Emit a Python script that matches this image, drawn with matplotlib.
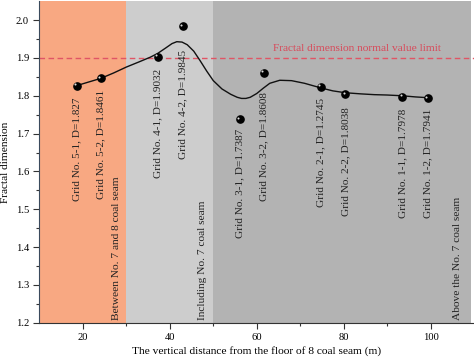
import matplotlib
matplotlib.use("Agg")
import matplotlib.pyplot as plt
import matplotlib.transforms as mtransforms
import numpy as np

plt.rcParams['font.family'] = ['Liberation Serif', 'DejaVu Serif']

# measured points
dist = [18.6, 24.1, 37.2, 43.0, 56.1, 61.6, 74.7, 80.4, 93.5, 99.3]
frac = [1.827, 1.8461, 1.9032, 1.9845, 1.7387, 1.8608, 1.8245, 1.8038, 1.7978, 1.7941]
labels = ['Grid No. 5-1, D=1.827', 'Grid No. 5-2, D=1.8461',
          'Grid No. 4-1, D=1.9032', 'Grid No. 4-2, D=1.9845',
          'Grid No. 3-1, D=1.7387', 'Grid No. 3-2, D=1.8608',
          'Grid No. 2-1, D=1.2745', 'Grid No. 2-2, D=1.8038',
          'Grid No. 1-1, D=1.7978', 'Grid No. 1-2, D=1.7941']
# gap between point and its label (points)
gaps = [8.5, 8.5, 8.5, 17, 7, 14, 8.5, 9, 8.5, 8]

# fitted curve
curve_x = [18.6, 24.1, 27, 30, 33, 35.5, 37.2, 39, 40.5, 41.6, 42.8, 44, 45.5,
           46.9, 48.5, 50, 52, 54, 55.5, 56.5, 57.5, 58.5, 60, 61.5, 63, 65.3,
           68, 71, 74.7, 77.5, 80.4, 84, 87, 90, 93.5, 96.5, 99.3]
curve_y = [1.827, 1.846, 1.860, 1.876, 1.890, 1.902, 1.912, 1.926, 1.938, 1.943,
           1.942, 1.935, 1.918, 1.894, 1.865, 1.840, 1.818, 1.804, 1.796, 1.793,
           1.793, 1.796, 1.806, 1.820, 1.833, 1.841, 1.840, 1.833, 1.821, 1.813,
           1.808, 1.805, 1.803, 1.802, 1.800, 1.797, 1.795]

zones = [(10, 30, '#f8a882', 'Between No. 7 and 8 coal seam', 27.8),
         (30, 50, '#cdcdcd', 'Including No. 7 coal seam', 47.6),
         (50, 109.3, '#b3b3b3', 'Above the No. 7 coal seam', 106.1)]

limit = 1.9

fig = plt.figure(figsize=(4.74, 3.62), dpi=100)
ax = fig.add_axes([0.0833, 0.1086, 0.9167, 0.888])

for x0, x1, c, txt, tx in zones:
    ax.axvspan(x0, x1, color=c, lw=0, zorder=0)
    ax.text(tx, 1.207, txt, rotation=90, ha='center', va='bottom', fontsize=8.2, color='#222222')

ax.axhline(limit, color='#e05565', lw=1, dashes=(4, 2.5), zorder=1)
ax.text(83, 1.912, 'Fractal dimension normal value limit', ha='center', va='bottom',
        fontsize=8.2, color='#d84a5a')

ax.plot(curve_x, curve_y, color='#111111', lw=1, zorder=2)
ax.plot(dist, frac, 'o', color='black', ms=5.2, zorder=3)
hl = ax.transData + mtransforms.ScaledTranslation(-1.0 / 72, 1.0 / 72, fig.dpi_scale_trans)
ax.plot(dist, frac, 'o', color='#dddddd', ms=1.5, mew=0, transform=hl, zorder=4)

for x, y, s, g in zip(dist, frac, labels, gaps):
    ax.annotate(s, (x, y), xytext=(0, -g), textcoords='offset points', rotation=90,
                ha='center', va='top', fontsize=8.1, color='#222222')

ax.set_xlim(10, 110)
ax.set_ylim(1.2, 2.05)
ax.set_xticks([20, 40, 60, 80, 100])
ax.set_xticks([30, 50, 70, 90], minor=True)
ax.set_yticks(np.arange(1.2, 2.01, 0.1))
ax.set_yticks(np.arange(1.25, 2.0, 0.1), minor=True)
ax.yaxis.set_major_formatter(matplotlib.ticker.FormatStrFormatter('%.1f'))
ax.tick_params(which='major', length=4, width=0.8, labelsize=7.6, color='#333333')
ax.tick_params(which='minor', length=2, width=0.8, color='#333333')
for sp in ['top', 'right']:
    ax.spines[sp].set_visible(False)
ax.spines['left'].set_color('#3a4a5c')
ax.spines['bottom'].set_color('#333333')

ax.set_xlabel('The vertical distance from the floor of 8 coal seam (m)', fontsize=8.2, labelpad=3)
ax.set_ylabel('Fractal dimension', fontsize=8.2, labelpad=4)

fig.savefig('out.png', dpi=100)
